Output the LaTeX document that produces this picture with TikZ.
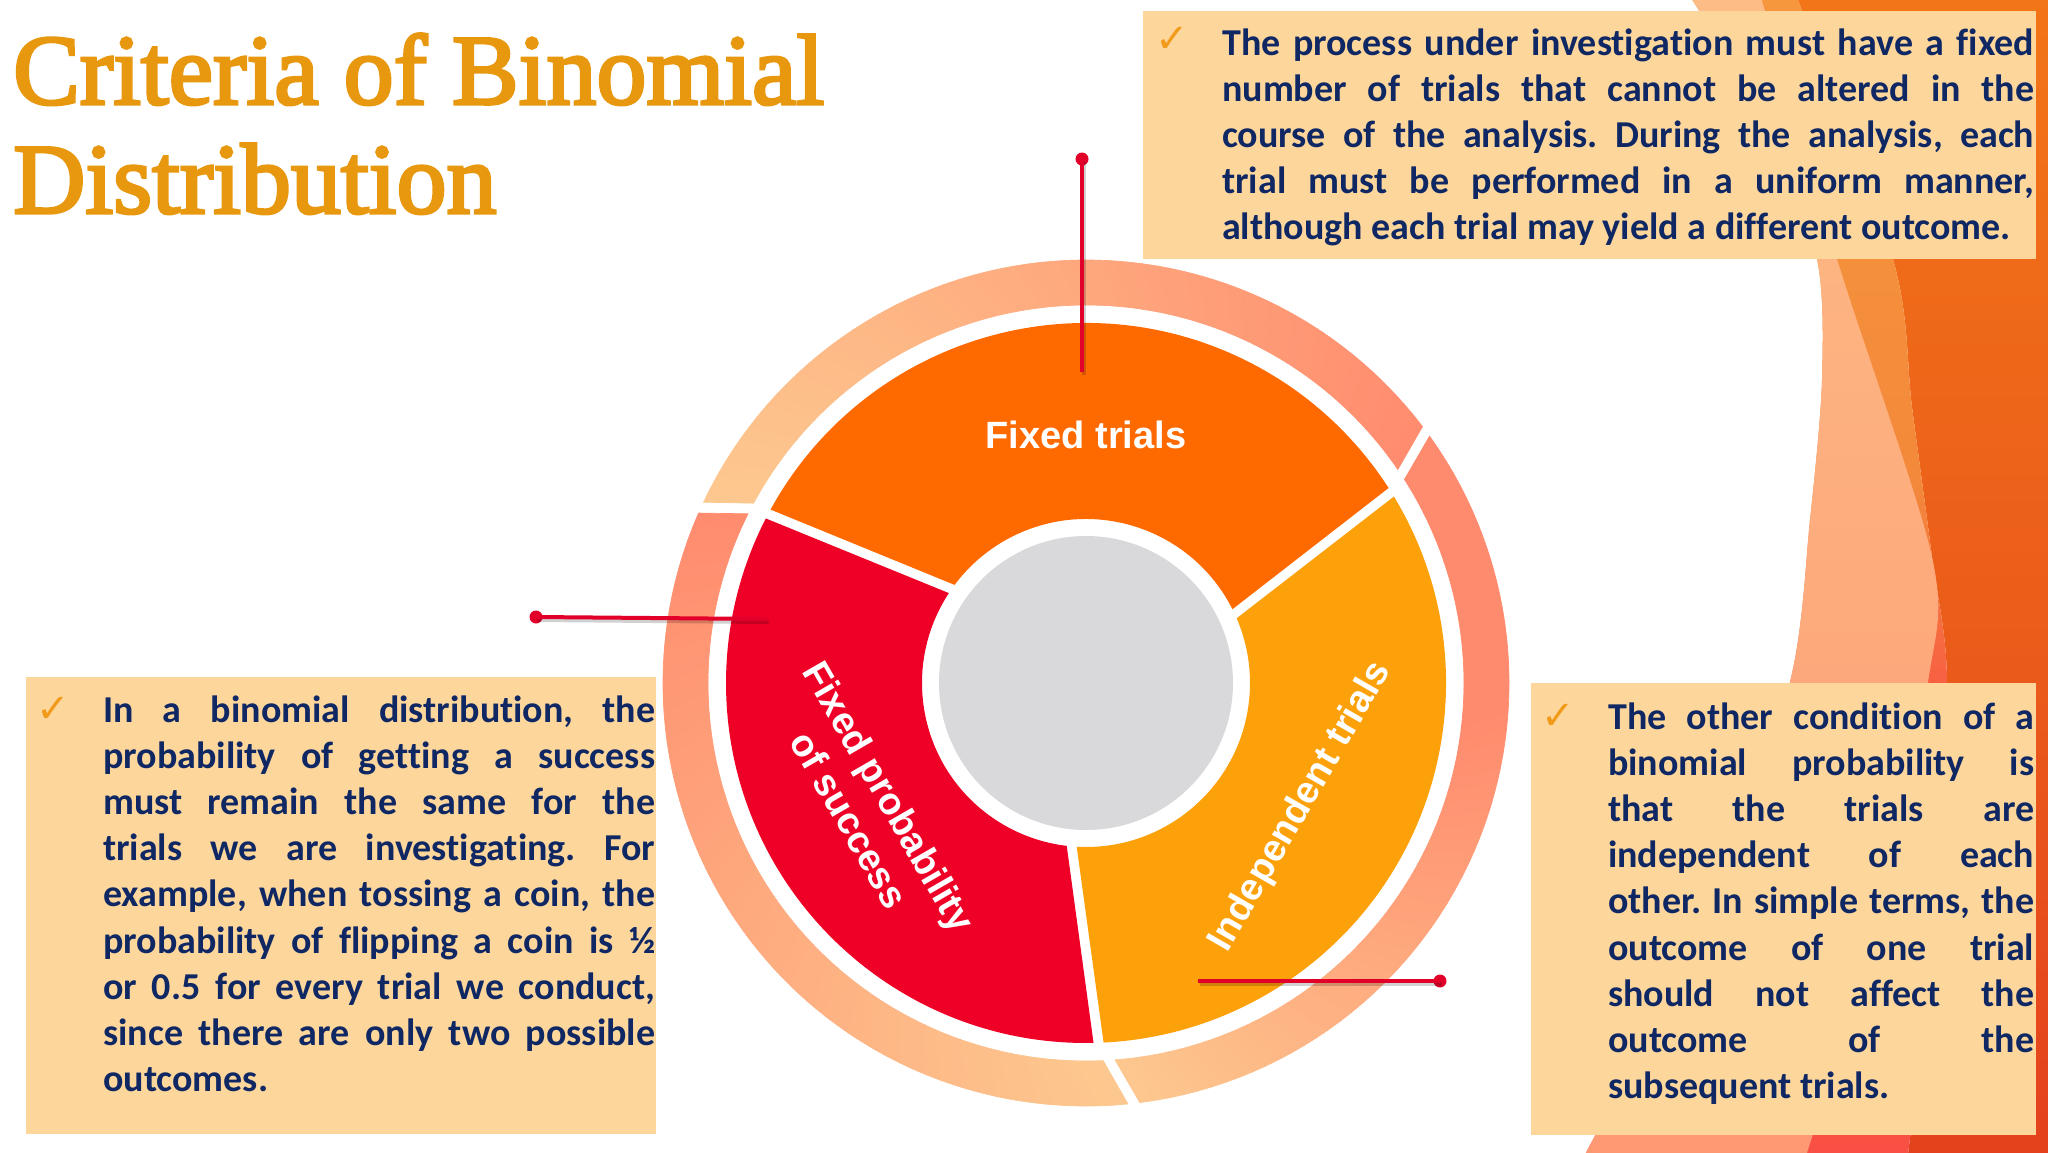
\documentclass[tikz,border=0pt]{standalone}
\usepackage{fontspec}
\setmainfont{Liberation Serif}
\newfontfamily\titlefont{Liberation Serif}[FakeBold=3]
\newfontfamily\bodyfont{Carlito}[Ligatures=NoCommon]
\newfontfamily\labelfont{Liberation Sans}
\newfontfamily\symfont{DejaVu Sans}
\usetikzlibrary{calc}

\definecolor{boxfill}{HTML}{FDD69C}
\definecolor{navy}{HTML}{0F2864}
\definecolor{chk}{HTML}{F29A1A}
\definecolor{segor}{HTML}{FF6A00}
\definecolor{segred}{HTML}{EE0027}
\definecolor{segyel}{HTML}{FCA10A}
\definecolor{ringsal}{HTML}{FF8B6E}
\definecolor{ringpale}{HTML}{FDC88F}
\definecolor{hubgray}{HTML}{D9D8DB}
\definecolor{conred}{HTML}{E2002A}
\definecolor{titlecol}{HTML}{E8980F}
\definecolor{dkA}{HTML}{F98C14}
\definecolor{dkB}{HTML}{EA5A1B}
\definecolor{dkC}{HTML}{DC1F1F}
\definecolor{mdA}{HTML}{F9A841}
\definecolor{mdB}{HTML}{F3893A}
\definecolor{mdC}{HTML}{F85A44}
\definecolor{mdD}{HTML}{F84343}
\definecolor{pkA}{HTML}{FDC57A}
\definecolor{pkB}{HTML}{FDBE86}
\definecolor{pkC}{HTML}{FDA57A}
\definecolor{pkD}{HTML}{FF8468}

\pgfdeclareverticalshading{darkshade}{100bp}{color(0bp)=(dkC); color(45bp)=(dkB); color(100bp)=(dkA)}
\pgfdeclareverticalshading{medshade}{100bp}{color(0bp)=(mdD); color(44bp)=(mdC); color(54bp)=(mdB); color(100bp)=(mdA)}
\pgfdeclareverticalshading{peachshade}{100bp}{color(0bp)=(pkD); color(41bp)=(pkC); color(78bp)=(pkB); color(100bp)=(pkA)}

\newcommand\jl[1]{\makebox[\linewidth][s]{#1}\\}
\newcommand\bodytext{\bodyfont\bfseries\fontsize{38bp}{46.2bp}\selectfont\frenchspacing}

\newcommand\ringarc[5]{%
  \foreach \k in {0,...,59}{%
    \pgfmathsetmacro\ta{\k/60}%
    \pgfmathsetmacro\tb{(\k+1)/60}%
    \pgfmathsetmacro\tm{(\k+0.5)/60}%
    \pgfmathsetmacro\ai{#1+(#2-#1)*\ta}%
    \pgfmathsetmacro\aj{#1+(#2-#1)*\tb}%
    \pgfmathsetmacro\bi{#3+(#4-#3)*\ta}%
    \pgfmathsetmacro\bj{#3+(#4-#3)*\tb}%
    \pgfmathtruncatemacro\pc{100*(#5)}%
    \colorlet{cc}{ringsal!\pc!ringpale}%
    \fill[cc, draw=cc, line width=0.7bp] (\ai:378) arc[start angle=\ai, end angle=\aj, radius=378]
      -- (\bj:423) arc[start angle=\bj, end angle=\bi, radius=423] -- cycle;
  }%
}

\tikzset{
  x=1bp, y=1bp,
  seglab/.style={text=white, inner sep=0, font=\labelfont\bfseries\fontsize{38bp}{46bp}\selectfont},
  titlest/.style={text=titlecol, inner sep=0, anchor=base west, font=\titlefont\fontsize{100bp}{110bp}\selectfont},
  chkst/.style={text=chk, inner sep=0, font=\symfont\fontsize{40bp}{42bp}\selectfont},
  textst/.style={inner sep=0, anchor=base west, text=navy},
  conn/.style={draw=conred, line width=4bp},
  connshadow/.style={draw=black, opacity=0.18, line width=4bp, transform canvas={xshift=1.5bp, yshift=-3bp}},
  dotst/.style={circle, fill=conred, minimum size=13bp, inner sep=0}
}

\begin{document}
\begin{tikzpicture}
\useasboundingbox (0,0) rectangle (2048,-1152);
\fill[white] (0,0) rectangle (2048,-1152);

% right-side decorative shapes
\shade[shading=darkshade] plot[smooth] coordinates {(1794,10) (1893,-259) (1912,-407) (1932,-557) (1947,-682) (1935,-920) (1907,-1162)} -- (2060,-1162) -- (2060,10) -- cycle;
\shade[shading=medshade] plot[smooth] coordinates {(1686,10) (1770,-130) (1817,-259) (1822,-380) (1810,-520) (1790,-682) (1715,-900) (1581,-1162)}
  -- plot[smooth] coordinates {(1907,-1162) (1935,-920) (1947,-682) (1932,-557) (1912,-407) (1893,-259) (1794,10)} -- cycle;
\shade[shading=peachshade] plot[smooth] coordinates {(1686,10) (1770,-130) (1817,-259) (1822,-380) (1810,-520) (1790,-682) (1715,-900) (1581,-1162)}
  -- plot[smooth] coordinates {(1804,-1162) (1878,-920) (1928,-682) (1932,-557) (1837,-259) (1759,10)} -- cycle;

% text boxes
\fill[boxfill] (1143,-11) rectangle (2036,-259);
\fill[boxfill] (26,-677) rectangle (656,-1134);
\fill[boxfill] (1531,-683) rectangle (2036,-1135);

% title
\node[titlest] (title1) at (13,-104) {Criteria of Binomial};
\node[titlest] (title2) at (13,-213) {Distribution};

% circle diagram
\begin{scope}[shift={(1086,-683)}]
  \ringarc{34.41}{151.59}{37.31}{154.69}{1-\tm}
  \ringarc{153.41}{272.59}{156.31}{275.69}{1-\tm}
  \ringarc{274.41}{392.59}{277.31}{395.69}{min(1,1.5*\tm)}
  \fill[segor] (26.75:164) arc[start angle=26.75, end angle=143.25, radius=164] -- (151.2:360) arc[start angle=151.2, end angle=32.8, radius=360] -- cycle;
  \fill[segred] (146.75:164) arc[start angle=146.75, end angle=263.25, radius=164] -- (271.2:360) arc[start angle=271.2, end angle=152.8, radius=360] -- cycle;
  \fill[segyel] (266.75:164) arc[start angle=266.75, end angle=383.25, radius=164] -- (391.2:360) arc[start angle=391.2, end angle=272.8, radius=360] -- cycle;
  \node[circle, fill=hubgray, minimum size=294bp, inner sep=0] (hub) at (0,0) {};
  \node[seglab] (lab1) at (90:248) {Fixed trials};
  \node[seglab, rotate=-60, align=center] (lab2) at (210:250) {Fixed probability\\of success};
  \node[seglab, rotate=60] (lab3) at (330:248) {Independent trials};
\end{scope}

% connectors
\node[dotst] (d1) at (1082,-159) {};
\coordinate (e1) at (1082,-372);
\node[dotst] (d2) at (536,-617) {};
\coordinate (e2) at (767,-619);
\node[dotst] (d3) at (1440,-981) {};
\coordinate (e3) at (1198,-981);
\draw[connshadow] (d1.center) -- (e1);
\draw[connshadow] (d2.center) -- (e2);
\draw[connshadow] (e3) -- (d3.center);
\draw[conn] (d1.center) -- (e1);
\draw[conn] (d2.center) -- (e2);
\draw[conn] (e3) -- (d3.center);

% check marks
\node[chkst] (ck1) at (1172,-40) {✓};
\node[chkst] (ck2) at (53,-710) {✓};
\node[chkst] (ck3) at (1558,-717) {✓};

% texts
\node[textst] (txt1) at (1222,-55) {\parbox[t]{812bp}{\bodytext
\jl{The process under investigation must have a fixed}
\jl{number of trials that cannot be altered in the}
\jl{course of the analysis. During the analysis, each}
\jl{trial must be performed in a uniform manner,}
although each trial may yield a different outcome.}};

\node[textst] (txt2) at (103,-722) {\parbox[t]{552bp}{\bodytext
\jl{In a binomial distribution, the}
\jl{probability of getting a success}
\jl{must remain the same for the}
\jl{trials we are investigating. For}
\jl{example, when tossing a coin, the}
\jl{probability of flipping a coin is ½}
\jl{or 0.5 for every trial we conduct,}
\jl{since there are only two possible}
outcomes.}};

\node[textst] (txt3) at (1608,-729) {\parbox[t]{426bp}{\bodytext
\jl{The other condition of a}
\jl{binomial probability is}
\jl{that the trials are}
\jl{independent of each}
\jl{other. In simple terms, the}
\jl{outcome of one trial}
\jl{should not affect the}
\jl{outcome of the}
subsequent trials.}};
\end{tikzpicture}
\end{document}
